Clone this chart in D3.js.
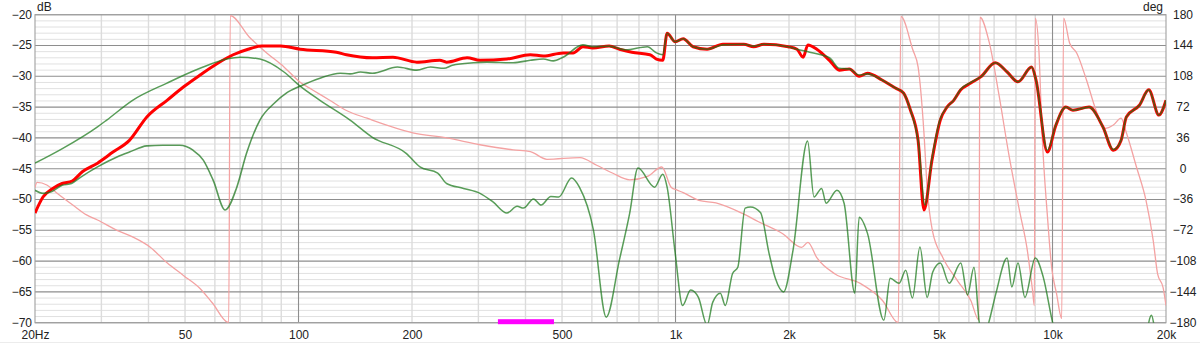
<!DOCTYPE html>
<html><head><meta charset="utf-8">
<script src="https://cdn.jsdelivr.net/npm/d3@7"></script>
<style>body{margin:0;background:#fff;} svg{display:block;font-family:"Liberation Sans",Arial,sans-serif;}</style>
</head><body><svg id="c" width="1200" height="344"></svg>
<script>
// ---------- data ----------
const xTicks = [20,50,100,200,500,1000,2000,5000,10000,20000];
const xTickLabels = ["20Hz","50","100","200","500","1k","2k","5k","10k","20k"];
const xMajorGrid = [100,1000,10000];
const dbTicks = [-20,-25,-30,-35,-40,-45,-50,-55,-60,-65,-70];
const degTicks = [180,144,108,72,36,0,-36,-72,-108,-144,-180];
const markerRange = [338,476];

const totalSpl = [[20,-52.2],[21,-49.6],[22.3,-48.2],[23.6,-47.4],[25.1,-47.0],[26.7,-45.5],[29.3,-44.1],[32.2,-42.3],[35.6,-40.4],[39.6,-36.6],[44.8,-33.9],[49.6,-31.7],[54.8,-29.8],[60.6,-28.0],[67.1,-26.5],[73.5,-25.6],[80,-25.1],[89.6,-25.1],[101,-25.6],[126,-26.1],[134,-26.5],[157,-27.0],[178,-26.9],[206,-27.7],[237,-27.4],[247,-27.7],[280,-27.0],[303,-27.4],[357,-27.2],[412,-26.5],[446,-26.7],[503,-26.2],[535,-26.2],[568,-25.2],[603,-25.4],[667,-25.1],[710,-25.6],[766,-26.1],[855,-26.5],[890,-27.2],[925,-27.4],[950,-23.0],[998,-24.4],[1048,-23.9],[1113,-25.2],[1213,-25.6],[1336,-24.8],[1517,-24.8],[1612,-25.2],[1715,-24.8],[1990,-25.2],[2100,-25.6],[2180,-26.9],[2245,-24.9],[2370,-25.6],[2560,-27.4],[2720,-29.0],[2890,-28.8],[3070,-30.0],[3230,-29.5],[3530,-30.6],[3830,-31.9],[4025,-32.7],[4200,-35.5],[4400,-40.4],[4560,-51.7],[4790,-43.6],[5040,-37.1],[5250,-35.0],[5470,-33.9],[5710,-32.2],[6070,-31.1],[6450,-30.1],[7050,-27.8],[7580,-29.3],[8100,-30.9],[8800,-28.5],[9040,-30.6],[9690,-42.3],[10200,-38.0],[10850,-35.0],[11330,-35.5],[12500,-35.0],[13600,-38.2],[14500,-42.0],[15200,-40.4],[15700,-36.6],[17000,-34.7],[18000,-32.2],[19150,-36.3],[20000,-33.9]];

const highPassSpl = [[20,-48.5],[21,-49.0],[22,-48.8],[23.6,-47.7],[25,-47.4],[26.4,-46.4],[29.3,-44.7],[33,-43.1],[35.6,-42.3],[39.6,-41.3],[43.6,-41.2],[48.4,-41.2],[52.5,-42.0],[55.9,-43.6],[59.4,-46.9],[63.9,-51.7],[68.6,-48.0],[72.8,-42.5],[79,-37.1],[86.5,-34.3],[93,-32.7],[101,-31.6],[114,-30.3],[129,-29.5],[137,-29.6],[146,-29.3],[157,-29.5],[183,-28.5],[206,-29.0],[224,-28.5],[243,-28.7],[256,-28.2],[291,-27.8],[316,-27.7],[371,-27.8],[412,-27.4],[446,-27.2],[474,-27.5],[503,-26.9],[568,-24.9],[603,-25.2],[667,-25.1],[737,-25.7],[842,-25.2],[890,-26.2],[925,-26.5],[950,-23.0],[998,-24.4],[1048,-23.9],[1113,-25.2],[1213,-25.6],[1336,-24.9],[1517,-24.8],[1612,-25.1],[1715,-24.8],[1990,-25.2],[2100,-25.6],[2270,-26.1],[2560,-27.0],[2720,-28.7],[2890,-28.8],[3070,-29.8],[3230,-29.6],[3530,-30.6],[3830,-31.9],[4025,-32.7],[4200,-35.5],[4400,-40.4],[4590,-50.9],[4790,-43.3],[5040,-36.9],[5250,-35.0],[5470,-33.9],[5710,-32.1],[6070,-31.0],[6450,-30.1],[7050,-27.8],[7580,-29.3],[8100,-30.9],[8800,-28.5],[9040,-30.6],[9690,-42.0],[10200,-37.9],[10850,-35.0],[11330,-35.5],[12500,-35.0],[13600,-38.2],[14500,-41.9],[15200,-40.4],[15700,-36.6],[17000,-34.7],[18000,-32.2],[19150,-36.3],[20000,-33.9]];

const lowPassSpl = [[20,-44.1],[23.7,-41.7],[29.3,-38.2],[31,-37.1],[36.3,-33.9],[44.8,-31.1],[54.8,-28.7],[64.5,-27.2],[70,-26.9],[79,-27.2],[91.5,-29.3],[101,-31.6],[114,-33.9],[137,-37.1],[157,-39.9],[193,-42.5],[210,-44.7],[234,-45.7],[247,-47.4],[274,-48.2],[303,-49.0],[328,-50.4],[357,-52.2],[380,-51.1],[395,-51.4],[420,-49.9],[440,-50.9],[467,-49.5],[490,-49.6],[530,-46.5],[556,-48.0],[606,-55.0],[655,-69.1],[710,-59.8],[756,-52.2],[795,-44.9],[880,-48.0],[925,-45.9],[950,-48.0],[998,-58.7],[1044,-67.2],[1097,-64.7],[1150,-65.9],[1213,-70.4],[1255,-66.7],[1315,-65.2],[1355,-67.2],[1417,-62.0],[1463,-61.0],[1530,-51.4],[1580,-51.2],[1680,-52.1],[1770,-58.7],[1840,-62.8],[1935,-65.0],[2050,-58.2],[2240,-40.5],[2330,-49.6],[2440,-48.2],[2510,-50.6],[2680,-48.5],[2800,-50.6],[2990,-65.2],[3070,-52.9],[3230,-55.5],[3570,-69.6],[3710,-62.8],[3920,-63.6],[4080,-61.5],[4250,-66.0],[4450,-57.7],[4650,-65.9],[4810,-61.8],[5040,-60.3],[5320,-63.6],[5710,-60.3],[5950,-65.5],[6190,-61.0],[6400,-70.1],[6620,-72],[6800,-69.6],[7080,-65.2],[7580,-59.5],[7800,-64.2],[8100,-60.3],[8450,-65.9],[9000,-59.5],[9450,-62.6],[10000,-69.9],[10200,-72],[12000,-80],[16000,-80],[17800,-72],[18000,-70],[18300,-68.8],[18600,-70.5],[19000,-75],[20000,-78]];

const phaseDeg = [[20,-22],[20.25,-16],[21.5,-19],[22.8,-28],[25.3,-43],[27.4,-54],[29.3,-60],[33,-72],[36.4,-80],[40.5,-92],[44.8,-110],[49.6,-125],[54.8,-140],[59.1,-157],[65.3,-180],[65.9,179],[74,154],[82.5,135],[91.5,119],[101,101],[109,92],[121,80],[134,68],[152,59],[201,42],[247,36],[303,28],[371,22],[412,20],[456,11],[558,13],[618,4],[680,-5],[756,-13],[842,-9],[920,2],[975,-22],[1010,-25],[1048,-28],[1153,-37],[1280,-40],[1500,-52],[1660,-62],[1925,-76],[2160,-92],[2245,-86],[2370,-104],[2650,-123],[3090,-134],[3540,-154],[3900,-180],[3960,178],[4260,139],[4400,119],[4560,42],[4650,-22],[4800,-72],[5120,-104],[5600,-131],[6070,-154],[6380,-177],[6420,177],[6800,147],[7200,88],[7650,18],[8200,-52],[8550,-92],[8850,-142],[8950,-160],[9000,176],[9200,139],[9380,42],[9700,-57],[9950,-116],[10250,-146],[10580,-175],[10700,176],[11100,147],[11600,135],[12300,104],[13050,68],[13750,47],[14500,51],[15200,59],[15700,42],[16700,2],[17700,-37],[18500,-84],[19000,-123],[19650,-139],[20000,-160]];

// ---------- chart ----------
const L=35, R=1166, T=14.7, B=322.7;
const x = d3.scaleLog().domain([20,20000]).range([L,R]);
const yDb = d3.scaleLinear().domain([-70,-20]).range([B,T]);
const yDeg = d3.scaleLinear().domain([-180,180]).range([B,T]);
const svg = d3.select("#c");

svg.append("defs").append("clipPath").attr("id","plot")
  .append("rect").attr("x",L).attr("y",T).attr("width",R-L).attr("height",B-T);

const grid = svg.append("g");
grid.append("g").selectAll("line").data(d3.range(-69,-20,1).filter(d=>d%5!==0)).join("line")
  .attr("x1",L).attr("x2",R).attr("y1",d=>yDb(d)).attr("y2",d=>yDb(d))
  .attr("stroke","#e1e1e1").attr("stroke-width",1);
const minorF = x.ticks().filter(f=>f>20 && f<20000 && !xMajorGrid.includes(f));
grid.append("g").selectAll("line").data(minorF).join("line")
  .attr("x1",d=>x(d)).attr("x2",d=>x(d)).attr("y1",T).attr("y2",B)
  .attr("stroke","#dcdcdc").attr("stroke-width",1.4);
grid.append("g").selectAll("line").data(dbTicks).join("line")
  .attr("x1",L).attr("x2",R).attr("y1",d=>yDb(d)).attr("y2",d=>yDb(d))
  .attr("stroke","#8e8e8e").attr("stroke-width",1.1);
grid.append("g").selectAll("line").data(xMajorGrid).join("line")
  .attr("x1",d=>x(d)).attr("x2",d=>x(d)).attr("y1",T).attr("y2",B)
  .attr("stroke","#8e8e8e").attr("stroke-width",1.1);
grid.append("rect").attr("x",L).attr("y",T).attr("width",R-L).attr("height",B-T)
  .attr("fill","none").attr("stroke","#a0a0a0").attr("stroke-width",1.1);

const plot = svg.append("g").attr("clip-path","url(#plot)");
const lineDb = d3.line().x(d=>x(d[0])).y(d=>yDb(d[1])).curve(d3.curveMonotoneX);
const lineDeg = d3.line().x(d=>x(d[0])).y(d=>yDeg(d[1])).curve(d3.curveMonotoneX);

plot.append("path").datum(phaseDeg).attr("d",lineDeg)
  .attr("fill","none").attr("stroke","#f4a2a2").attr("stroke-width",1.3);
plot.append("path").datum(totalSpl).attr("d",lineDb)
  .attr("fill","none").attr("stroke","#ff0000").attr("stroke-width",3).attr("stroke-linejoin","round");
plot.append("path").datum(lowPassSpl).attr("d",lineDb)
  .attr("fill","none").attr("stroke","rgb(25,120,25)").attr("stroke-opacity",0.72).attr("stroke-width",1.5);
plot.append("path").datum(highPassSpl).attr("d",lineDb)
  .attr("fill","none").attr("stroke","rgb(25,115,25)").attr("stroke-opacity",0.72).attr("stroke-width",1.6);

svg.append("rect").attr("x",x(markerRange[0])).attr("width",x(markerRange[1])-x(markerRange[0]))
  .attr("y",B-3.5).attr("height",5).attr("fill","#ff00ff");

const font = '"Liberation Sans",Arial,sans-serif';
function styleAxis(sel){
  sel.select(".domain").remove();
  sel.attr("font-size",12).attr("font-family",font);
  sel.selectAll("text").attr("fill","#222");
}
svg.append("g").attr("transform",`translate(${L},0)`)
  .call(d3.axisLeft(yDb).tickValues(dbTicks).tickSize(0).tickPadding(3).tickFormat(d3.format("d")))
  .call(styleAxis)
  .call(s=>s.selectAll("text").attr("dy","0.28em"));
svg.append("g").attr("transform",`translate(${R},0)`)
  .call(d3.axisRight(yDeg).tickValues(degTicks).tickSize(0).tickPadding(17).tickFormat(d3.format("d")))
  .call(styleAxis)
  .call(s=>s.selectAll("text").attr("text-anchor","middle").attr("dy","0.28em"));
svg.append("g").attr("transform",`translate(0,${B})`)
  .call(d3.axisBottom(x).tickValues(xTicks).tickSize(0).tickPadding(8).tickFormat((d,i)=>xTickLabels[i]))
  .call(styleAxis);

svg.append("text").attr("x",37).attr("y",11).attr("font-size",12).attr("font-family",font).attr("fill","#222").text("dB");
svg.append("text").attr("x",1163).attr("y",11).attr("text-anchor","end").attr("font-size",12).attr("font-family",font).attr("fill","#222").text("deg");
svg.append("line").attr("x1",0).attr("x2",1200).attr("y1",342.5).attr("y2",342.5).attr("stroke","#ececec");
</script></body></html>
